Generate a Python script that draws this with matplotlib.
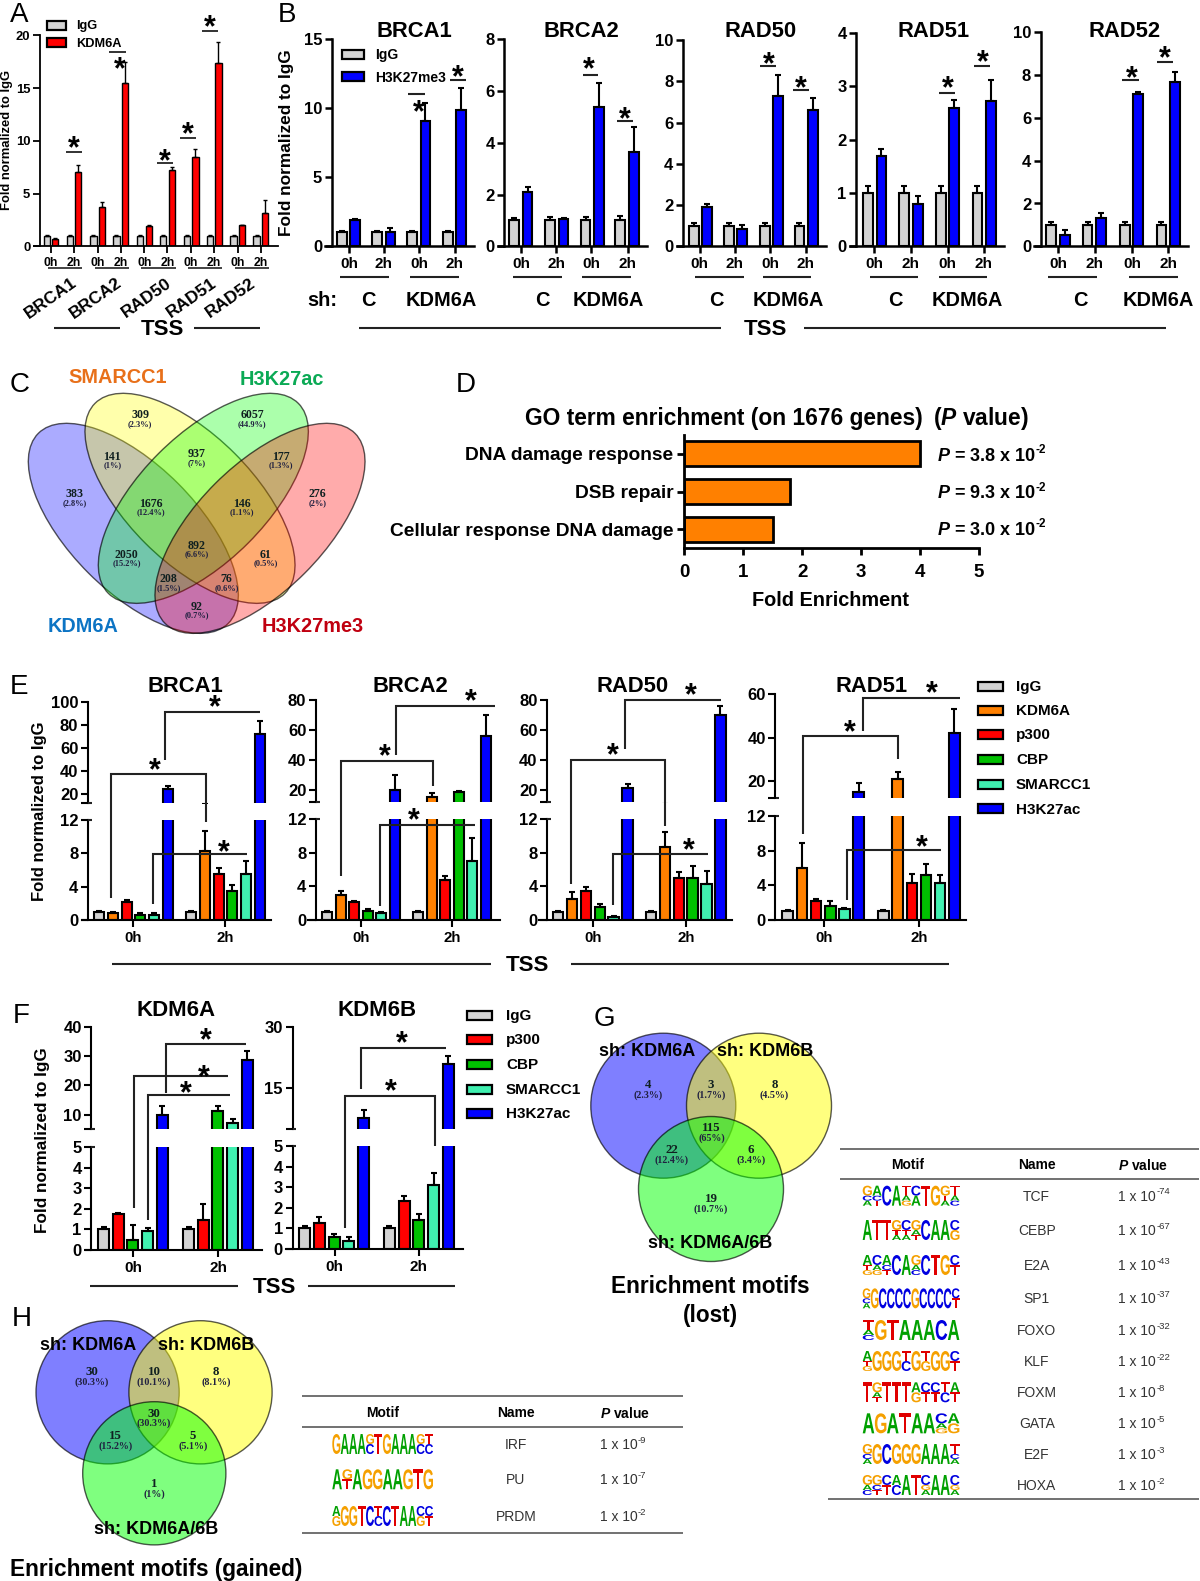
import numpy as np
import matplotlib
matplotlib.use('Agg')
import matplotlib.pyplot as plt
from matplotlib.patches import Ellipse, Rectangle, PathPatch
from matplotlib.textpath import TextPath
from matplotlib.font_manager import FontProperties
from matplotlib.transforms import Affine2D

plt.rcParams['font.family'] = ['Liberation Sans', 'DejaVu Sans']
plt.rcParams['font.weight'] = 'bold'
plt.rcParams['mathtext.fontset'] = 'custom'
plt.rcParams['mathtext.rm'] = 'Liberation Sans'
plt.rcParams['mathtext.it'] = 'Liberation Sans:italic:bold'
plt.rcParams['mathtext.bf'] = 'Liberation Sans:bold'
plt.rcParams['mathtext.default'] = 'regular'

W, H = 1200, 1581

GRAY = '#d3d3d3'
RED = '#ff0000'
BLUE = '#0000ff'
ORANGE = '#ff8000'
GREEN = '#00c000'
MINT = '#40f0b0'

# panel A
a_genes = ['BRCA1', 'BRCA2', 'RAD50', 'RAD51', 'RAD52']
a_igg = [1, 1, 1, 1, 1, 1, 1, 1, 1, 1]
a_igg_err = [.1, .1, .1, .1, .1, .1, .1, .1, .1, .1]
a_kdm = [.7, 7.0, 3.7, 15.5, 1.9, 7.2, 8.5, 17.4, 2.0, 3.2]
a_kdm_err = [.1, .7, .5, 2.0, .1, .3, .7, 2.0, .05, 1.2]

# panel B
b_titles = ['BRCA1', 'BRCA2', 'RAD50', 'RAD51', 'RAD52']
b_ymax = [15, 8, 10, 4, 10]
b_igg = [[1, 1, 1, 1], [1, 1, 1, 1.02], [1, 1, 1, 1], [1, 1, 1, 1], [1, 1, 1, 1]]
b_igg_err = [[.1, .1, .1, .1], [.1, .15, .15, .15], [.12, .12, .12, .12], [.13, .13, .13, .13], [.12, .12, .12, .12]]
b_h3 = [[1.9, 1.05, 9.1, 9.9], [2.1, 1.05, 5.4, 3.65], [1.9, .85, 7.3, 6.6], [1.7, .8, 2.6, 2.72], [.55, 1.3, 7.1, 7.7]]
b_h3_err = [[.1, .25, 1.3, 1.6], [.2, .05, .9, .95], [.15, .2, 1.0, .6], [.13, .15, .15, .4], [.2, .25, .1, .45]]

# panel C
c_counts = ['309', '6057', '141', '937', '177', '383', '1676', '146', '276', '2050', '892', '61', '208', '76', '92']
c_pcts = ['(2.3%)', '(44.9%)', '(1%)', '(7%)', '(1.3%)', '(2.8%)', '(12.4%)', '(1.1%)', '(2%)', '(15.2%)', '(6.6%)',
          '(0.5%)', '(1.5%)', '(0.6%)', '(0.7%)']

# panel D
d_terms = ['DNA damage response', 'DSB repair', 'Cellular response DNA damage']
d_fold = [4.0, 1.8, 1.5]
d_pvals = ['3.8', '9.3', '3.0']

# panel E
e_names = ['IgG', 'KDM6A', 'p300', 'CBP', 'SMARCC1', 'H3K27ac']
e_colors = [GRAY, ORANGE, RED, GREEN, MINT, BLUE]
e_brca1 = [1, .8, 2.2, .6, .6, 24, 1, 8.3, 5.5, 3.5, 5.5, 72]
e_brca1_err = [.1, .2, .2, .2, .3, 3, .1, 2.4, .7, .7, 1.6, 11]
e_brca2 = [1, 3, 2.1, 1.1, .8, 20, 1, 15, 4.7, 18.5, 7, 56]
e_brca2_err = [.1, .5, .1, .2, .1, 10, .1, 2.5, .5, .7, 2.8, 14]
e_rad50 = [1, 2.5, 3.4, 1.5, .4, 21, 1, 8.7, 5, 5, 4.3, 70]
e_rad50_err = [.1, .8, .5, .4, .1, 3, .1, 1.8, .7, 1.4, 1.5, 6]
e_rad51 = [1, 6, 2.2, 1.6, 1.2, 15, 1, 21, 4.3, 5.2, 4.2, 42]
e_rad51_err = [.1, 2.9, .2, .6, .1, 4, .1, 3, 1, 1.2, 1, 11]

# panel F
f_names = ['IgG', 'p300', 'CBP', 'SMARCC1', 'H3K27ac']
f_colors = [GRAY, RED, GREEN, MINT, BLUE]
f_kdm6a = [1, 1.75, .5, .9, 10, 1, 1.45, 11.2, 7.2, 28.5]
f_kdm6a_err = [.12, .07, .7, .15, 3, .12, .8, 1.7, 1.2, 3.2]
f_kdm6b = [1, 1.25, .6, .4, 7.7, 1, 2.35, 1.4, 3.1, 20.9]
f_kdm6b_err = [.12, .3, .15, .18, 2, .12, .25, .3, .6, 1.9]

# panels G, H
g_counts = ['4', '3', '8', '115', '22', '6', '19']
g_pcts = ['(2.3%)', '(1.7%)', '(4.5%)', '(65%)', '(12.4%)', '(3.4%)', '(10.7%)']
h_counts = ['30', '10', '8', '30', '15', '5', '1']
h_pcts = ['(30.3%)', '(10.1%)', '(8.1%)', '(30.3%)', '(15.2%)', '(5.1%)', '(1%)']

g_names = ['TCF', 'CEBP', 'E2A', 'SP1', 'FOXO', 'KLF', 'FOXM', 'GATA', 'E2F', 'HOXA']
g_exps = [-74, -67, -43, -37, -32, -22, -8, -5, -3, -2]
g_logos = ['GCA ACT C A TAG CA T G GTA TAC',
           'A T T GTA CTA GAT C A A CG',
           'ATG CAG ACT C A GAC C T G CT',
           'GCA G C C C C G C C C C CT',
           'TAC G T A A A C A',
           'ATG G G G TC G TG G G CT',
           'T GAT T T T AG CT CT TC AT',
           'A G A T A A CAG AG',
           'GCA G C G G G A A A TCA',
           'GAC GCT CT AC A T CGA A A CGA']
h_names = ['IRF', 'PU', 'PRDM']
h_exps = [-9, -7, -2]
h_logos = ['G A A A GC T G A A A GC TC',
           'A GT A G G A A G T G',
           'AG G G T C TC C T A A CG CT']

fig = plt.figure(figsize=(W / 100, H / 100), dpi=100)

ov = fig.add_axes([0, 0, 1, 1], zorder=20)
ov.set_xlim(0, W)
ov.set_ylim(H, 0)
ov.axis('off')
ov.patch.set_alpha(0)


def T(x, y, s, size, weight='bold', ha='center', va='center', color='black', **kw):
    if 'rotation' not in kw and va == 'center':
        y = y + size * .1
    return ov.text(x, y, s, fontsize=size, fontweight=weight, ha=ha, va=va, color=color, **kw)


def sup(parent, s, size, weight, color='black'):
    # small raised exponent right after a text, the hyphen stays a hyphen
    ov.annotate(s, xy=(1, .85), xycoords=parent, ha='left', va='center', fontsize=size, fontweight=weight, color=color)


def L(xs, ys, lw=1.5, color='#222222'):
    ov.plot(xs, ys, color=color, lw=lw, solid_capstyle='butt', solid_joinstyle='miter')


def star(x, y):
    T(x, y + 17.5, '*', 22, va='baseline')


def swatch(x0, x1, y, color):
    ov.add_patch(Rectangle((x0, y - 4.5), x1 - x0, 9, fc=color, ec='black', lw=1.6))


def make_ax(x0, x1, ytop, ybot, ylim, yticks, axis_x, tick_size, lw=1.5, labels=None):
    ax = fig.add_axes([x0 / W, 1 - ybot / H, (x1 - x0) / W, (ybot - ytop) / H])
    ax.set_xlim(x0, x1)
    ax.set_ylim(*ylim)
    ax.patch.set_alpha(0)
    for s in ['top', 'right']:
        ax.spines[s].set_visible(False)
    ax.spines['left'].set_position(('data', axis_x))
    ax.spines['left'].set_linewidth(lw)
    ax.spines['bottom'].set_linewidth(lw)
    ax.set_yticks(yticks)
    ax.set_yticklabels(yticks if labels is None else labels, fontsize=tick_size, fontweight='bold')
    ax.tick_params(axis='y', length=5, width=lw, pad=2)
    ax.tick_params(axis='x', length=5, width=lw, pad=3)
    return ax


def draw_bars(ax, xs, vals, errs, colors, w, lw=1.5):
    ax.bar(xs, vals, width=w, color=colors, edgecolor='black', linewidth=lw)
    ax.errorbar(xs, vals, yerr=[np.zeros(len(vals)), errs], fmt='none', ecolor='black', elinewidth=lw,
                capsize=w * .2, capthick=lw)


def set_xt(ax, ticks, labels, size):
    ax.set_xticks(ticks)
    ax.set_xticklabels(labels, fontsize=size, fontweight='bold')


# ---- A
ax = make_ax(34, 277.5, 35.3, 246.3, (0, 20), [0, 5, 10, 15, 20], 40, 9.4, lw=1.3)
xs, cols, vals, errs, ticks = [], [], [], [], []
for i in range(10):
    base = 46.7 + (i // 2) * 46.7 + (i % 2) * 23.0
    xs += [base, base + 8.6]
    ticks.append(base + 4.3)
    cols += [GRAY, RED]
    vals += [a_igg[i], a_kdm[i]]
    errs += [a_igg_err[i], a_kdm_err[i]]
draw_bars(ax, xs, vals, errs, cols, 6.3, lw=1.0)
set_xt(ax, ticks, ['0h', '2h'] * 5, 8.8)
T(7.5, 140, 'Fold normalized to IgG', 9.4, rotation=90)
for i, x in enumerate([51, 96, 147, 192, 231]):
    T(x, 298, a_genes[i], 12.5, rotation=35)
    L([47.8 + i * 46.7, 82.3 + i * 46.7], [267.7, 267.7], lw=1.2)
L([54.3, 119.8], [328.3, 328.3])
L([194.4, 260], [328.3, 328.3])
T(162, 328, 'TSS', 16)
for x0, x1, y, sx, sy in [(65.8, 81.5, 151.7, 73.9, 140), (109, 125.5, 52.3, 119.8, 61),
                          (157, 173.4, 162.7, 164.6, 152.7), (180, 196, 138, 187.5, 126),
                          (201.7, 218, 30.7, 210, 18.3)]:
    L([x0, x1], [y, y], lw=1.3)
    star(sx, sy)
swatch(46.7, 65.8, 25, GRAY)
swatch(46.7, 65.8, 42.7, RED)
T(76.5, 25, 'IgG', 9.2, ha='left')
T(76.5, 42.7, 'KDM6A', 9.2, ha='left')

# ---- B
b_layout = [
    dict(l=325, r=473.8, top=39.3, ax=332, bars=[341.7, 377, 412, 447.8], ticks=[349, 383.9, 419.4, 454.6],
         u=[339.5, 388.8, 410, 459], c=368, k=441, t=414.5,
         lines=[(408.3, 424.8, 94, 419, 104), (449.7, 466, 80, 458, 68.3)]),
    dict(l=497.5, r=646.7, top=39.3, ax=504.4, bars=[514, 550, 585.5, 620.3], ticks=[521, 556, 591, 627.5],
         u=[512.8, 561.8, 581.7, 630.6], c=542, k=608.8, t=581,
         lines=[(582.5, 598, 75, 589, 61), (617, 633, 121, 625, 111)]),
    dict(l=676.5, r=825.8, top=40, ax=683, bars=[693.8, 728.6, 764.6, 799.4], ticks=[699.5, 735, 770.3, 805.9],
         u=[695, 743.5, 762.6, 811], c=716, k=788.7, t=760.7,
         lines=[(760, 776, 66.3, 769, 56), (792.9, 809.3, 90, 801.3, 80)]),
    dict(l=849.5, r=1003.7, top=33, ax=856.4, bars=[867.9, 904.2, 940.6, 977.4], ticks=[874.4, 910.8, 947.5, 983.9],
         u=[869.8, 918.4, 938.7, 987.3], c=895.4, k=967.4, t=934,
         lines=[(938.7, 954.8, 92.7, 947.5, 79.3), (974.3, 989.6, 66, 982.7, 54)]),
    dict(l=1033.6, r=1188, top=32.3, ax=1040.9, bars=[1051.2, 1087.6, 1124.7, 1161.4], ticks=[1058, 1094.8, 1132, 1168.3],
         u=[1048, 1096.7, 1128.9, 1177.9], c=1080.3, k=1158.7, t=1124.3,
         lines=[(1122.4, 1138.5, 80, 1132, 70), (1156.8, 1172.9, 62.3, 1165, 50)]),
]
b_ticks = [[0, 5, 10, 15], [0, 2, 4, 6, 8], [0, 2, 4, 6, 8, 10], [0, 1, 2, 3, 4], [0, 2, 4, 6, 8, 10]]
for i, p in enumerate(b_layout):
    ax = make_ax(p['l'], p['r'], p['top'], 246.3, (0, b_ymax[i]), b_ticks[i], p['ax'], 12, lw=1.8)
    xs, cols, vals, errs = [], [], [], []
    for j in range(4):
        xs += [p['bars'][j], p['bars'][j] + 13.5]
        cols += [GRAY, BLUE]
        vals += [b_igg[i][j], b_h3[i][j]]
        errs += [b_igg_err[i][j], b_h3_err[i][j]]
    draw_bars(ax, xs, vals, errs, cols, 9.8)
    set_xt(ax, p['ticks'], ['0h', '2h', '0h', '2h'], 11)
    T(p['t'], 30, b_titles[i], 15.8)
    u = p['u']
    L(u[:2], [277.3, 277.3])
    L(u[2:], [277.3, 277.3])
    T(p['c'], 299.3, 'C', 14.4)
    T(p['k'], 299.3, 'KDM6A', 14.4)
    for x0, x1, y, sx, sy in p['lines']:
        L([x0, x1], [y, y])
        star(sx, sy)
T(287, 143, 'Fold normalized to IgG', 12.4, rotation=90)
T(322.6, 299.3, 'sh:', 14.4)
swatch(341.7, 363.6, 54.3, GRAY)
swatch(341.7, 363.6, 76.7, BLUE)
T(375, 54.3, 'IgG', 10, ha='left')
T(375, 76.7, 'H3K27me3', 10, ha='left')
L([359, 720.5], [328.3, 328.3])
T(765, 328, 'TSS', 16)
L([804, 1165.6], [328.3, 328.3])

# ---- C
for (cx, cy, ang, col) in [(400, 520, 45, (0, 0, 1)), (570, 430, 45, (1, 1, 0)),
                           (610, 430, -45, (0, 1, 0)), (780, 520, -45, (1, 0, 0))]:
    ov.add_patch(Ellipse((cx / 3, 355 + cy / 3), 2 * 403 / 3, 2 * 190 / 3, angle=ang, fc=col + (.33,), ec=(0, 0, 0, .65), lw=1))
c_pos = [(420, 178), (757, 178), (337, 303), (590, 295), (843, 303), (225, 415), (453, 443), (727, 443), (953, 415),
         (380, 597), (590, 570), (798, 597), (505, 670), (680, 670), (590, 752)]
for (zx, zy), n, pc in zip(c_pos, c_counts, c_pcts):
    T(zx / 3, 355 + zy / 3, n, 8.6, family='Liberation Serif', color='#102020')
    T(zx / 3, 355 + (zy + 27) / 3, pc, 6, family='Liberation Serif', color='#202040')
T(118, 376, 'SMARCC1', 14.3, color='#e8701a')
T(282, 378, 'H3K27ac', 14.3, color='#0baa55')
T(83, 625, 'KDM6A', 14.3, color='#0c74c4')
T(313, 625, 'H3K27me3', 14.3, color='#c00010')

# ---- D
ax = make_ax(684.4, 978.8, 435, 548.3, (2.5, -.495), [0, 1, 2], 684.4, 13.8, lw=2, labels=d_terms)
ax.set_xlim(0, 5)
ax.spines['left'].set_position(('data', 0))
ax.barh([0, 1, 2], d_fold, height=.66, color=ORANGE, edgecolor='black', linewidth=2)
ax.set_yticks([0, 1, 2])
ax.set_yticklabels(d_terms, fontsize=13.8, fontweight='bold')
ax.set_xticks(range(6))
ax.set_xticklabels(range(6), fontsize=13.5, fontweight='bold')
ax.tick_params(axis='y', pad=3, length=5, width=2)
ax.tick_params(axis='x', pad=6, length=5, width=2)
T(723.4, 416.7, 'GO term enrichment (on 1676 genes)', 16.4)
T(933, 416.7, r'($\mathit{P}$ value)', 16.4, ha='left')
T(831, 599.3, 'Fold Enrichment', 14.3)
for y, pv in zip([455, 492.3, 529], d_pvals):
    t = T(936.8, y, r'$\mathit{P}$ = ' + pv + ' x 10', 13, ha='left')
    sup(t, '-2', 8.5, 'bold')

# ---- E
e_panels = [
    dict(t='BRCA1', tx=185.7, vals=e_brca1, errs=e_brca1_err, l=82, r=271, ax=88, s=[99, 191], p=13.8, w=10,
         y0=920, y12=820, brk=802.7, ytop=702, ymax=100, up=[20, 40, 60, 80, 100], lab=[133, 225]),
    dict(t='BRCA2', tx=410.7, vals=e_brca2, errs=e_brca2_err, l=308, r=500, ax=316, s=[327.3, 418.3], p=13.5, w=10,
         y0=920, y12=819, brk=801.7, ytop=700, ymax=80, up=[20, 40, 60, 80], lab=[361, 452]),
    dict(t='RAD50', tx=632.3, vals=e_rad50, errs=e_rad50_err, l=539.4, r=732, ax=547.3, s=[558, 650.9], p=13.9, w=10.3,
         y0=920, y12=819, brk=801.7, ytop=700, ymax=80, up=[20, 40, 60, 80], lab=[592.8, 685.7]),
    dict(t='RAD51', tx=871.6, vals=e_rad51, errs=e_rad51_err, l=768.8, r=966.5, ax=775.5, s=[787.7, 883.4], p=14.2, w=10.5,
         y0=919.7, y12=816, brk=798, ytop=694.3, ymax=60, up=[20, 40, 60], lab=[824, 919]),
]
for p in e_panels:
    xs = [p['s'][0] + i * p['p'] for i in range(6)] + [p['s'][1] + i * p['p'] for i in range(6)]
    cols = e_colors * 2
    lo = make_ax(p['l'], p['r'], p['y12'], p['y0'], (0, 12), [0, 4, 8, 12], p['ax'], 12)
    draw_bars(lo, xs, p['vals'], p['errs'], cols, p['w'])
    set_xt(lo, p['lab'], ['0h', '2h'], 10.8)
    hi = make_ax(p['l'], p['r'], p['ytop'], p['brk'], (12, p['ymax']), [12] + p['up'], p['ax'], 12,
                 labels=[''] + p['up'])
    draw_bars(hi, xs, p['vals'], p['errs'], cols, p['w'])
    hi.spines['bottom'].set_visible(False)
    hi.set_xticks([])
    T(p['tx'], 685, p['t'], 15.8)
    L([p['ax'], p['ax'] + 3.5], [p['brk'], p['brk']])
    L([p['ax'], p['ax'] + 3.5], [p['y12'], p['y12']])
T(39.3, 811.7, 'Fold normalized to IgG', 12, rotation=90)
e_brackets = [
    ([111, 111, 205.7, 205.7], [898.3, 774, 774, 822.3], 155, 761.7),
    ([164.7, 164.7, 260], [760, 711.7, 711.7], 215, 699),
    ([153, 153, 246.7], [904, 854, 854], 223.7, 844),
    ([341, 341, 432.7, 432.7], [876, 761.3, 761.3, 786], 385, 748),
    ([396.3, 396.3, 494.7], [755, 706.3, 706.3], 470.7, 693),
    ([380, 380, 475], [906, 824.7, 824.7], 414, 811.7),
    ([570.7, 570.7, 664.8, 664.8], [884, 760.3, 760.3, 825.7], 612.6, 746.7),
    ([625.2, 625.2, 721.3], [749.3, 700.3, 700.3], 690.5, 686.7),
    ([613.4, 613.4, 707.5], [905, 854.3, 854.3], 688.5, 841.7),
    ([802.8, 802.8, 897.7, 897.7], [834.3, 736, 736, 759.3], 849.8, 724),
    ([863.3, 863.3, 959.7], [730.7, 698.3, 698.3], 931.7, 685),
    ([847, 847, 940.8], [900, 850, 850], 922.2, 838.3),
]
for bx, by, sx, sy in e_brackets:
    L(bx, by)
    star(sx, sy)
for y, name, col in zip([686, 710, 734.3, 759, 784.3, 808.7], e_names, e_colors):
    swatch(977.5, 1003, y, col)
    T(1016, y, name, 11, ha='left')
L([112, 490.7], [964, 964])
T(527.6, 964, 'TSS', 16)
L([571, 948.7], [964, 964])
T(19, 685, 'E', 20, weight='normal')

# ---- F
f_panels = [
    dict(t='KDM6A', tx=176, vals=f_kdm6a, errs=f_kdm6a_err, l=85.8, r=261.5, ax=91.4, s=[103.5, 188.5], y0=1250, y5=1147,
         brk=1129.3, ytop=1026.7, ymax=40, up=[10, 20, 30, 40], lab=[133.2, 218.2]),
    dict(t='KDM6B', tx=377.4, vals=f_kdm6b, errs=f_kdm6b_err, l=286, r=462.8, ax=292.7, s=[304.7, 389.4], y0=1249, y5=1146.3,
         brk=1129.3, ytop=1026.7, ymax=30, up=[15, 30], lab=[334.5, 418.7]),
]
for p in f_panels:
    xs = [p['s'][0] + i * 14.7 for i in range(5)] + [p['s'][1] + i * 14.7 for i in range(5)]
    cols = f_colors * 2
    lo = make_ax(p['l'], p['r'], p['y5'], p['y0'], (0, 5), [0, 1, 2, 3, 4, 5], p['ax'], 12)
    draw_bars(lo, xs, p['vals'], p['errs'], cols, 11)
    set_xt(lo, p['lab'], ['0h', '2h'], 11)
    hi = make_ax(p['l'], p['r'], p['ytop'], p['brk'], (5, p['ymax']), [5] + p['up'], p['ax'], 12,
                 labels=[''] + p['up'])
    draw_bars(hi, xs, p['vals'], p['errs'], cols, 11)
    hi.spines['bottom'].set_visible(False)
    hi.set_xticks([])
    T(p['tx'], 1009, p['t'], 16)
    L([p['ax'], p['ax'] + 3.5], [p['brk'], p['brk']])
    L([p['ax'], p['ax'] + 3.5], [p['y5'], p['y5']])
T(43, 1140, 'Fold normalized to IgG', 12.3, rotation=90)
f_brackets = [
    ([133.6, 133.6, 227.6], [1207.7, 1076, 1076], 204.3, 1068.3),
    ([147.5, 147.5, 229.5], [1220, 1095.3, 1095.3], 186.2, 1085),
    ([165.5, 165.5, 246.4], [1093.3, 1044, 1044], 205.4, 1031.7),
    ([345.4, 345.4, 434.5, 434.5], [1228.3, 1096, 1096, 1145.7], 391.3, 1082.7),
    ([361.2, 361.2, 445.8], [1089.3, 1048.3, 1048.3], 401.8, 1034.3),
]
for bx, by, sx, sy in f_brackets:
    L(bx, by)
    star(sx, sy)
for y, name, col in zip([1015, 1039.3, 1064, 1089, 1113.3], f_names, f_colors):
    swatch(466.5, 492, y, col)
    T(506, y, name, 11, ha='left')
L([90.3, 238], [1285.7, 1285.7])
T(274.6, 1285.7, 'TSS', 16)
L([307.7, 455.2], [1285.7, 1285.7])


# ---- venns G, H
def venn3(cs, r, pos, counts, pcts, dy):
    for (cx, cy), col in zip(cs, [(0, 0, 1), (1, 1, 0), (0, 1, 0)]):
        ov.add_patch(Ellipse((cx, cy), 2 * r, 2 * r, fc=col + (.5,), ec=(0, 0, 0, .65), lw=1))
    for (x, y), n, pc in zip(pos, counts, pcts):
        T(x, y, n, 9.3, family='Liberation Serif', color='#102020')
        T(x, y + dy, pc, 7.2, family='Liberation Serif', color='#202040')


g_pos = [(203, 283), (393, 283), (583, 283), (395, 412), (275, 478), (513, 478), (393, 625)]
venn3([(663.3, 1105.7), (759, 1105.7), (711, 1189)], 72.5, [(580 + x / 3, 990 + y / 3) for x, y in g_pos],
      g_counts, g_pcts, 10.5)
T(646.7, 1050.7, 'sh: KDM6A', 13)
T(765, 1050.7, 'sh: KDM6B', 13)
T(710, 1241.7, 'sh: KDM6A/6B', 13)
T(710, 1285, 'Enrichment motifs', 16.3)
T(710, 1313.5, '(lost)', 16.3)

h_pos = [(208, 243), (350, 243), (491, 243), (350, 368), (262, 435), (438, 435), (350, 580)]
venn3([(107.6, 1392.3), (200.5, 1392.3), (154.3, 1473.3)], 71.6, [(x / 2.272, 1290 + y / 3) for x, y in h_pos],
      h_counts, h_pcts, 10)
T(88, 1344.3, 'sh: KDM6A', 13)
T(206, 1344.3, 'sh: KDM6B', 13)
T(156, 1527.7, 'sh: KDM6A/6B', 13)
T(156, 1568.3, 'Enrichment motifs (gained)', 16.3)

# ---- motif tables
logo_cols = {'A': '#00a000', 'C': '#0000e0', 'G': '#f5a000', 'T': '#e00000'}
logo_font = FontProperties(family='Liberation Sans', weight='bold')


def logo(stacks, x0, x1, yc, h=20):
    parts = stacks.split()
    cw = (x1 - x0) / len(parts)
    for i, st in enumerate(parts):
        ytop = yc - h / 2
        shares = [1.0] if len(st) == 1 else [.5] + [.5 / (len(st) - 1)] * (len(st) - 1)
        for ch, sh in zip(st, shares):
            tp = TextPath((0, 0), ch, size=1, prop=logo_font)
            bb = tp.get_extents()
            hh = h * sh
            tr = Affine2D().translate(-bb.x0, -bb.y0).scale(cw * .95 / bb.width, -hh / bb.height).translate(x0 + i * cw, ytop + hh)
            ov.add_patch(PathPatch(tr.transform_path(tp), fc=logo_cols[ch], lw=0))
            ytop += hh


def table(xl, xr, y_rules, xb, xcols, y_head, ys, logos, names, exps, logo_x):
    for xa, y in zip(xb, y_rules):
        L([xa, xr], [y, y], lw=1.3, color='#666666')
    T(xcols[0], y_head, 'Motif', 10)
    T(xcols[1], y_head, 'Name', 10)
    T(xcols[2], y_head, r'$\mathit{P}$ value', 10)
    for y, lg, n, e in zip(ys, logos, names, exps):
        logo(lg, logo_x[0], logo_x[1], y)
        T(xcols[1], y, n, 10, weight='normal', color='#333333')
        t = T(xcols[2] - 6, y, '1 x 10', 10, weight='normal', color='#333333')
        sup(t, str(e), 6.8, 'normal', color='#333333')


table(840, 1199.3, [1149, 1179.3, 1499], [840, 840, 828], [907.7, 1036.7, 1143.3], 1164.3,
      [1130 + z / 3 for z in [197, 300, 405, 505, 600, 693, 787, 880, 972, 1065]],
      g_logos, g_names, g_exps, (862.7, 960))
table(301.5, 683, [1396, 1427.3, 1532.7], [301.5, 301.5, 301.5], [383, 515.8, 625], 1412.3,
      [1444, 1479.3, 1516], h_logos, h_names, h_exps, (332.3, 433.5))

# panel letters
for x, y, s in [(19, 13, 'A'), (287, 13, 'B'), (20, 383, 'C'), (466, 383, 'D'), (21, 1014, 'F'), (604, 1017, 'G'), (22, 1317, 'H')]:
    T(x, y, s, 20, weight='normal')

fig.savefig('out.png', dpi=100)
